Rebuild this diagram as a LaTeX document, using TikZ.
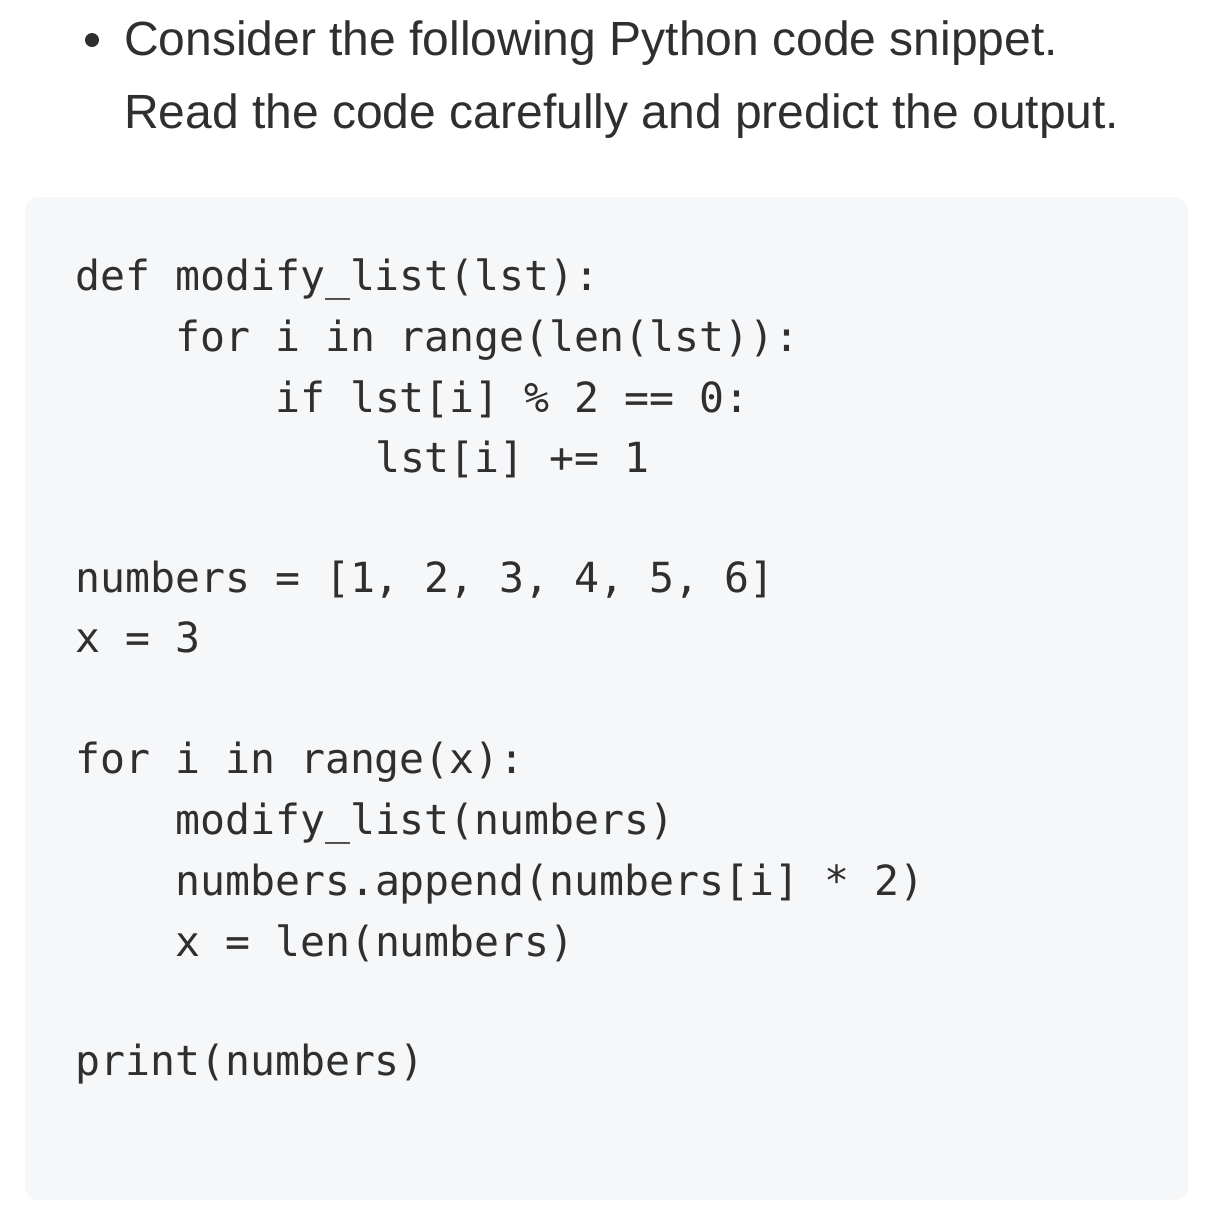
\documentclass[tikz,border=0pt]{standalone}
\usepackage{fontspec}
\setmainfont{Liberation Sans}
\setmonofont{DejaVu Sans Mono}
\definecolor{txt}{HTML}{2F2F2F}
\definecolor{codebg}{HTML}{F6F7F9}
\tikzset{codeline/.style={anchor=base west,inner sep=0pt,text=txt,font=\ttfamily\fontsize{41.5}{41.5}\selectfont},
 prose/.style={anchor=base west,inner sep=0pt,text=txt,font=\fontsize{48}{48}\selectfont}}
\begin{document}
\begin{tikzpicture}[x=1pt,y=-1pt]
\useasboundingbox[fill=white] (0,0) rectangle (1227,1216);
\fill[codebg,rounded corners=14pt] (25,197) rectangle (1188,1200);
\fill[txt] (92,40) circle (7);
\node[prose] (l1) at (124,55) {Consider the following Python code snippet.};
\node[prose] (l2) at (124,128) {Read the code carefully and predict the output.};
\node[codeline] (c1) at (75,290) {def modify\_list(lst):};
\node[codeline] (c2) at (75,351) {\ \ \ \ for i in range(len(lst)):};
\node[codeline] (c3) at (75,412) {\ \ \ \ \ \ \ \ if lst[i] \% 2 == 0:};
\node[codeline] (c4) at (75,472) {\ \ \ \ \ \ \ \ \ \ \ \ lst[i] += 1};
\node[codeline] (c5) at (75,592) {numbers = [1, 2, 3, 4, 5, 6]};
\node[codeline] (c6) at (75,652) {x = 3};
\node[codeline] (c7) at (75,773) {for i in range(x):};
\node[codeline] (c8) at (75,834) {\ \ \ \ modify\_list(numbers)};
\node[codeline] (c9) at (75,895) {\ \ \ \ numbers.append(numbers[i] * 2)};
\node[codeline] (c10) at (75,956) {\ \ \ \ x = len(numbers)};
\node[codeline] (c11) at (75,1075) {print(numbers)};
\end{tikzpicture}
\end{document}
